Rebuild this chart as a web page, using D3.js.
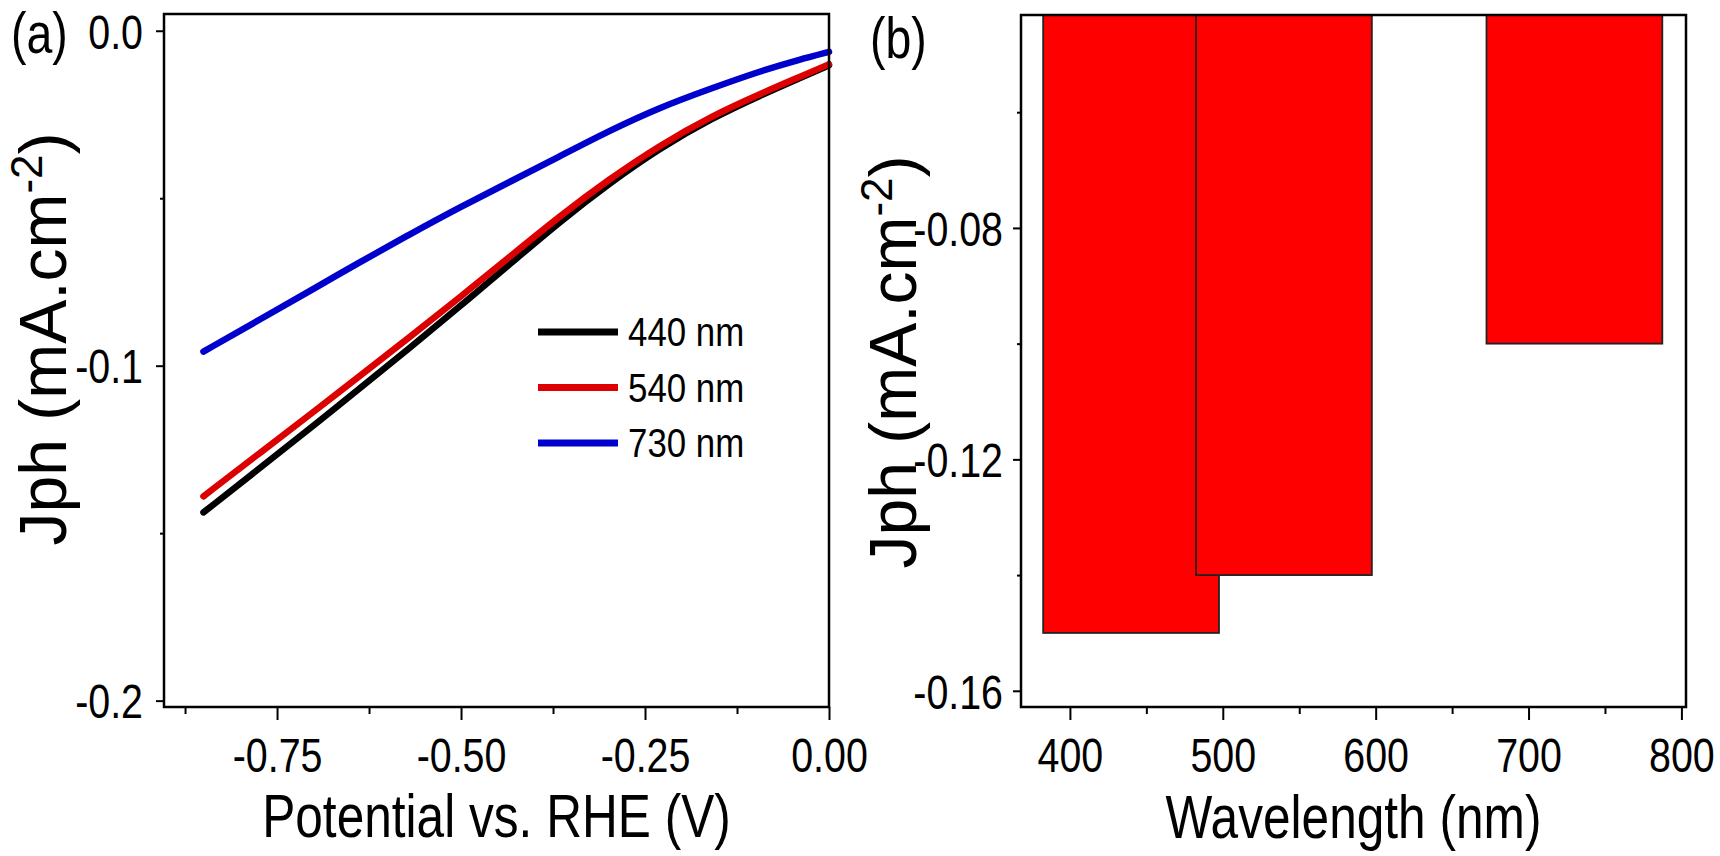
<!DOCTYPE html>
<html>
<head>
<meta charset="utf-8">
<script src="https://cdn.jsdelivr.net/npm/d3@7"></script>
<style>
  html, body { margin: 0; padding: 0; background: #fff; }
  svg { display: block; font-family: "Liberation Sans", Arial, sans-serif; }
</style>
</head>
<body>
<svg id="chart" width="1720" height="856"></svg>
<script>
// panel (a): photocurrent vs potential
const potential = [-0.85, -0.77, -0.70, -0.64, -0.57, -0.50, -0.43, -0.365, -0.30, -0.23, -0.16, -0.09, -0.04, 0.0];
const jph440 = [-0.1438, -0.1300, -0.1178, -0.1072, -0.0948, -0.0820, -0.0690, -0.0569, -0.0458, -0.0351, -0.0262, -0.0190, -0.0142, -0.0103];
const jph540 = [-0.1390, -0.1255, -0.1137, -0.1035, -0.0915, -0.0793, -0.0668, -0.0552, -0.0445, -0.0342, -0.0255, -0.0185, -0.0138, -0.0100];
const jph730 = [-0.0958, -0.0858, -0.0770, -0.0694, -0.0608, -0.0525, -0.0447, -0.0374, -0.0300, -0.0229, -0.0172, -0.0118, -0.0086, -0.0063];
const seriesNames = ['440 nm', '540 nm', '730 nm'];
const potentialTicks = [-0.75, -0.50, -0.25, 0.00];
const potentialMinor = [-0.875, -0.625, -0.375, -0.125];
const jphTicksA = [0.0, -0.1, -0.2];
const jphMinorA = [-0.05, -0.15];

// panel (b): photocurrent vs wavelength
const wavelengths = [440, 540, 730];
const jphBars = [-0.150, -0.140, -0.100];
const wavelengthTicks = [400, 500, 600, 700, 800];
const wavelengthMinor = [450, 550, 650, 750];
const jphTicksB = [-0.08, -0.12, -0.16];
const jphMinorB = [-0.06, -0.10, -0.14];

const barWidth = 115; // nm
const lineColors = ['#000000', '#dd0000', '#0000cc'];

const svg = d3.select('#chart');
svg.append('rect').attr('width', 1720).attr('height', 856).attr('fill', '#fff');

// squeeze text horizontally like the narrow font of the original
const condense = (sel, k) => sel.each(function () {
    const w = this.getComputedTextLength();
    this.setAttribute('textLength', w * k);
    this.setAttribute('lengthAdjust', 'spacingAndGlyphs');
});

// plain hyphen instead of d3's unicode minus
const fmt = spec => d => d3.format(spec)(d).replace('\u2212', '-');

const tickFont = 48;

const drawAxes = (g, x, y, opts) => {
    const [x0, x1] = x.range();
    const [y1, y0] = y.range();

    // x ticks
    g.append('g')
        .attr('transform', `translate(0,${y1})`)
        .call(d3.axisBottom(x).tickValues(opts.xMinor).tickSize(7).tickFormat(''))
        .call(a => a.select('.domain').remove());
    const xa = g.append('g')
        .attr('transform', `translate(0,${y1})`)
        .call(d3.axisBottom(x).tickValues(opts.xTicks).tickSize(13).tickPadding(18).tickFormat(opts.xFormat))
        .call(a => a.select('.domain').remove());
    xa.selectAll('text').attr('font-size', tickFont).attr('fill', '#000').attr('font-family', null)
        .call(condense, 0.82);

    // y ticks
    g.append('g')
        .attr('transform', `translate(${x0},0)`)
        .call(d3.axisLeft(y).tickValues(opts.yMinor).tickSize(4).tickFormat(''))
        .call(a => a.select('.domain').remove());
    const ya = g.append('g')
        .attr('transform', `translate(${x0},0)`)
        .call(d3.axisLeft(y).tickValues(opts.yTicks).tickSize(8).tickPadding(opts.yPad).tickFormat(opts.yFormat))
        .call(a => a.select('.domain').remove());
    ya.selectAll('text').attr('font-size', tickFont).attr('fill', '#000').attr('font-family', null)
        .attr('dy', '0.36em')
        .call(condense, 0.82);

    g.selectAll('.tick line').attr('stroke', '#000').attr('stroke-width', 2);

    // frame
    g.append('rect')
        .attr('x', x0).attr('y', y0)
        .attr('width', x1 - x0).attr('height', y1 - y0)
        .attr('fill', 'none').attr('stroke', '#000').attr('stroke-width', 2.5);

    // titles
    g.append('text')
        .attr('x', (x0 + x1) / 2).attr('y', opts.xTitleY)
        .attr('text-anchor', 'middle').attr('font-size', 62)
        .text(opts.xTitle)
        .call(condense, 0.8);

    const yt = g.append('text')
        .attr('transform', `translate(${opts.yTitleX},${opts.yTitleY}) rotate(-90)`)
        .attr('text-anchor', 'middle').attr('font-size', 66);
    yt.append('tspan').text('Jph (mA.cm');
    yt.append('tspan').attr('font-size', 44).attr('dy', -24).text('-2');
    yt.append('tspan').attr('dy', 24).text(')');

    g.append('text')
        .attr('x', opts.tagX).attr('y', opts.tagY)
        .attr('font-size', 58)
        .text(opts.tag)
        .call(condense, 0.8);
};

// ---- panel (a)
const xa = d3.scaleLinear().domain([-0.9036, 0]).range([164, 829]);
const ya = d3.scaleLinear().domain([-0.2019, 0.005]).range([707, 14]);
const ga = svg.append('g');

const lineGen = d3.line()
    .x(d => xa(d[0]))
    .y(d => ya(d[1]))
    .curve(d3.curveBasis);

[jph440, jph540, jph730].forEach((vals, i) => {
    ga.append('path')
        .datum(potential.map((p, j) => [p, vals[j]]))
        .attr('d', lineGen)
        .attr('fill', 'none')
        .attr('stroke', lineColors[i])
        .attr('stroke-width', 6.5)
        .attr('stroke-linecap', 'round');
});

// legend
const legend = ga.append('g').attr('transform', 'translate(538,332)');
seriesNames.forEach((name, i) => {
    const row = legend.append('g').attr('transform', `translate(0,${i * 55.5})`);
    row.append('line')
        .attr('x1', 0).attr('x2', 80)
        .attr('stroke', lineColors[i]).attr('stroke-width', 7);
    row.append('text')
        .attr('x', 90).attr('y', 14)
        .attr('font-size', 41)
        .text(name)
        .call(condense, 0.85);
});

drawAxes(ga, xa, ya, {
    xTicks: potentialTicks, xMinor: potentialMinor, xFormat: fmt('.2f'),
    yTicks: jphTicksA, yMinor: jphMinorA, yFormat: fmt('.1f'), yPad: 13,
    xTitle: 'Potential vs. RHE (V)', xTitleY: 837,
    yTitleX: 66, yTitleY: 339,
    tag: '(a)', tagX: 11, tagY: 53
});

// ---- panel (b)
const xb = d3.scaleLinear().domain([368, 803]).range([1021, 1686]);
const yb = d3.scaleLinear().domain([-0.1628, -0.0432]).range([707, 15]);
const gb = svg.append('g');

gb.append('clipPath').attr('id', 'clipB')
    .append('rect')
    .attr('x', 1021).attr('y', 15).attr('width', 1686 - 1021).attr('height', 707 - 15);

gb.append('g').attr('clip-path', 'url(#clipB)')
    .selectAll('rect')
    .data(wavelengths.map((w, i) => ({ w, v: jphBars[i] })))
    .join('rect')
    .attr('x', d => xb(d.w - barWidth / 2))
    .attr('width', d => xb(d.w + barWidth / 2) - xb(d.w - barWidth / 2))
    .attr('y', d => yb(0))
    .attr('height', d => yb(d.v) - yb(0))
    .attr('fill', '#ff0000')
    .attr('stroke', '#222')
    .attr('stroke-width', 1.8);

drawAxes(gb, xb, yb, {
    xTicks: wavelengthTicks, xMinor: wavelengthMinor, xFormat: fmt('d'),
    yTicks: jphTicksB, yMinor: jphMinorB, yFormat: fmt('.2f'), yPad: 10,
    xTitle: 'Wavelength (nm)', xTitleY: 838,
    yTitleX: 916, yTitleY: 362,
    tag: '(b)', tagX: 870, tagY: 58
});
</script>
</body>
</html>
